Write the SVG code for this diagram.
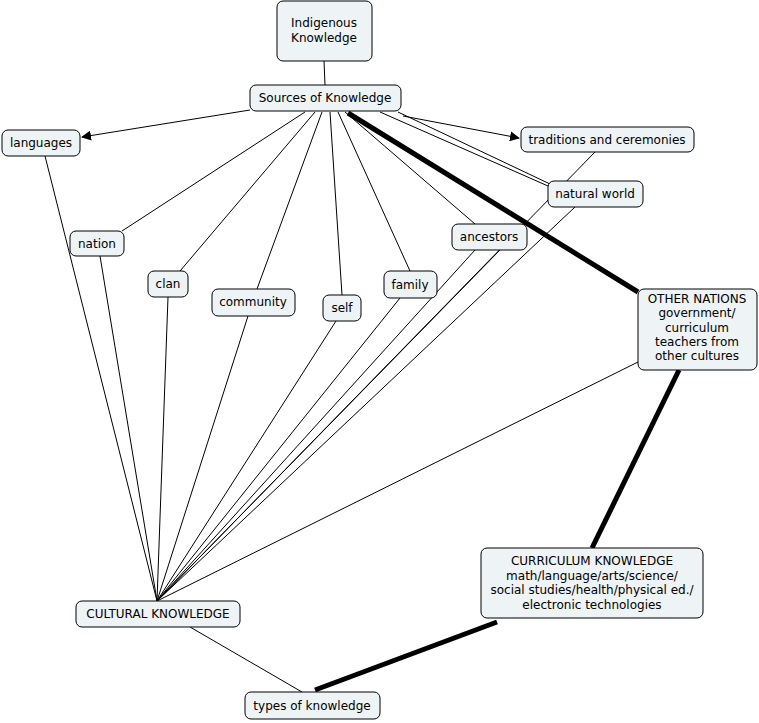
<svg xmlns="http://www.w3.org/2000/svg" width="759" height="723" viewBox="0 0 759 723">
<style>
.n rect{fill:#eef3f5;stroke:#000;stroke-width:1}
text{font-family:"DejaVu Sans",Verdana,sans-serif;font-size:12px;text-anchor:middle;fill:#000}
.c line{stroke:#000;stroke-width:1}
.c .t{stroke-width:5}
</style>
<defs><marker id="a" markerWidth="10" markerHeight="10" refX="9" refY="5" orient="auto" markerUnits="userSpaceOnUse"><path d="M0,0L10,5L0,10z"/></marker></defs>
<rect width="759" height="723" fill="#fff"/>
<g class="c">
<line x1="324" y1="61" x2="325" y2="85"/>
<line x1="250" y1="110" x2="82" y2="137" marker-end="url(#a)"/>
<line x1="403" y1="116" x2="519" y2="138" marker-end="url(#a)"/>
<line x1="305" y1="112" x2="122" y2="231"/>
<line x1="315" y1="112" x2="180" y2="271"/>
<line x1="322" y1="112" x2="257" y2="289"/>
<line x1="330" y1="112" x2="342" y2="295"/>
<line x1="338" y1="112" x2="410" y2="271"/>
<line x1="345" y1="112" x2="475" y2="224"/>
<line x1="380" y1="112" x2="548" y2="186"/>
<line x1="398" y1="112" x2="550" y2="184"/>
<line class="t" x1="348" y1="113" x2="638" y2="292"/>
<line class="t" x1="679" y1="370" x2="592" y2="548"/>
<line class="t" x1="497" y1="622" x2="315" y2="690"/>
<line x1="190" y1="627" x2="302" y2="692"/>
<line x1="45" y1="156" x2="157" y2="601"/>
<line x1="100" y1="256" x2="157" y2="601"/>
<line x1="168" y1="297" x2="157" y2="601"/>
<line x1="248" y1="316" x2="157" y2="601"/>
<line x1="336" y1="321" x2="157" y2="601"/>
<line x1="400" y1="298" x2="157" y2="601"/>
<line x1="475" y1="250" x2="157" y2="601"/>
<line x1="500" y1="250" x2="157" y2="601"/>
<line x1="575" y1="207" x2="157" y2="601"/>
<line x1="595" y1="152" x2="157" y2="601"/>
<line x1="638" y1="362" x2="157" y2="601"/>
</g>
<g class="n" id="indigenous"><rect x="277" y="1" width="95" height="60" rx="6"/><text x="324" y="27">Indigenous</text><text x="324" y="42">Knowledge</text></g>
<g class="n" id="sources"><rect x="250" y="85" width="151" height="26" rx="6"/><text x="325" y="102">Sources of Knowledge</text></g>
<g class="n" id="languages"><rect x="2" y="130" width="78" height="26" rx="6"/><text x="41" y="147">languages</text></g>
<g class="n" id="traditions"><rect x="521" y="127" width="173" height="25" rx="6"/><text x="607" y="144">traditions and ceremonies</text></g>
<g class="n" id="natural"><rect x="548" y="181" width="95" height="26" rx="6"/><text x="595" y="198">natural world</text></g>
<g class="n" id="nation"><rect x="70" y="231" width="54" height="25" rx="6"/><text x="97" y="248">nation</text></g>
<g class="n" id="clan"><rect x="148" y="271" width="40" height="26" rx="6"/><text x="168" y="288">clan</text></g>
<g class="n" id="community"><rect x="212" y="289" width="83" height="27" rx="6"/><text x="253" y="306">community</text></g>
<g class="n" id="self"><rect x="323" y="295" width="38" height="26" rx="6"/><text x="342" y="312">self</text></g>
<g class="n" id="family"><rect x="384" y="271" width="53" height="27" rx="6"/><text x="410" y="289">family</text></g>
<g class="n" id="ancestors"><rect x="452" y="224" width="75" height="26" rx="6"/><text x="489" y="241">ancestors</text></g>
<g class="n" id="other"><rect x="638" y="289" width="119" height="81" rx="6"/><text x="697" y="303">OTHER NATIONS</text><text x="697" y="317">government/</text><text x="697" y="332">curriculum</text><text x="697" y="346">teachers from</text><text x="697" y="360">other cultures</text></g>
<g class="n" id="curriculum"><rect x="481" y="548" width="222" height="70" rx="6"/><text x="592" y="565">CURRICULUM KNOWLEDGE</text><text x="592" y="580">math/language/arts/science/</text><text x="592" y="594">social studies/health/physical ed./</text><text x="592" y="609">electronic technologies</text></g>
<g class="n" id="cultural"><rect x="76" y="601" width="164" height="26" rx="6"/><text x="158" y="618">CULTURAL KNOWLEDGE</text></g>
<g class="n" id="types"><rect x="245" y="692" width="135" height="27" rx="6"/><text x="312" y="710">types of knowledge</text></g>
</svg>
